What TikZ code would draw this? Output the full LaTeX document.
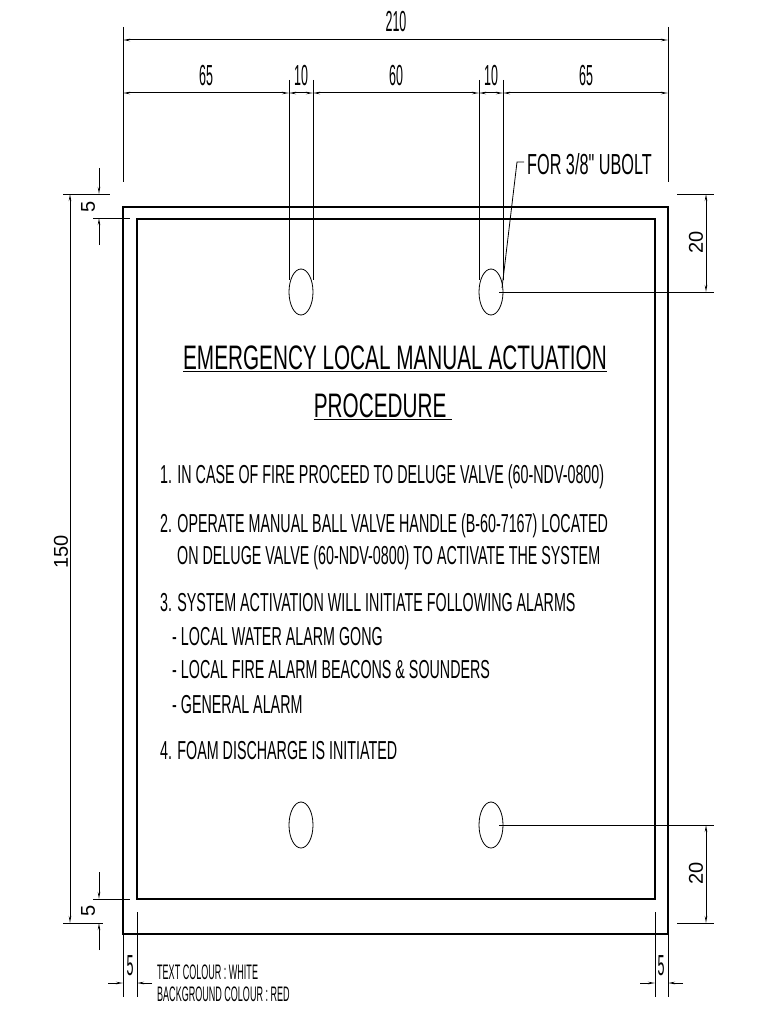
\documentclass[tikz,border=0pt]{standalone}
\usepackage{fontspec}
\setmainfont{Liberation Sans}[FakeStretch=0.55]
\newfontfamily\titlefont{Liberation Sans}[FakeStretch=0.61]
\newfontfamily\uboltfont{Liberation Sans}[FakeStretch=0.56]
\newfontfamily\dimfont{Liberation Sans}[FakeStretch=0.43]
\newfontfamily\notefont{Liberation Sans}[FakeStretch=0.43]
\newfontfamily\rotfont{Liberation Sans}
\usetikzlibrary{arrows.meta}
\begin{document}
\begin{tikzpicture}[x=1pt,y=-1pt,
  thick line/.style={line width=1.6pt},
  thin line/.style={line width=0.8pt},
  dim/.style={line width=1pt,{Stealth[length=7pt,width=2.5pt]}-{Stealth[length=7pt,width=2.5pt]}},
  arr/.style={line width=1pt,-{Stealth[length=7pt,width=2.5pt]}},
  dimtxt/.style={font=\dimfont\fontsize{29}{29}\selectfont,inner sep=0pt},
  rottxt/.style={font=\rotfont\fontsize{20}{20}\selectfont,inner sep=0pt,rotate=90},
  body/.style={font=\fontsize{26}{26}\selectfont,inner sep=0pt,anchor=base west},
  note/.style={font=\notefont\fontsize{21}{21}\selectfont,inner sep=0pt,anchor=base west},
  titletxt/.style={font=\titlefont\fontsize{34}{34}\selectfont,inner sep=0pt,anchor=base}]
\useasboundingbox (0,0) rectangle (768,1024);
\fill[white] (0,0) rectangle (768,1024);
% plate
\draw[thick line] (123,207) rectangle (668,934);
\draw[thick line] (137,219) rectangle (655,899);
% holes
\foreach \n/\x/\y in {ha/301/292,hb/491/292,hc/301/825,hd/491/825}
  \draw[thin line] (\x,\y) ellipse (12 and 23);
\coordinate (hbC) at (499,292);
\coordinate (hdC) at (499,825);
% top dims
\draw[thin line] (123,27) -- (123,182);
\draw[thin line] (668,27) -- (668,182);
\draw[dim] (123,40) -- (668,40);
\node[dimtxt] (t210) at (396,22) {210};
\foreach \x in {289,313,479,503} \draw[thin line] (\x,80) -- (\x,280);
\draw[dim] (123,93) -- (289,93);
\draw[dim] (289,93) -- (313,93);
\draw[dim] (313,93) -- (479,93);
\draw[dim] (479,93) -- (503,93);
\draw[dim] (503,93) -- (668,93);
\node[dimtxt] (t65a) at (206,76) {65};
\node[dimtxt] (t10a) at (301,76) {10};
\node[dimtxt] (t60) at (396,76) {60};
\node[dimtxt] (t10b) at (491,76) {10};
\node[dimtxt] (t65b) at (586,76) {65};
% leader
\coordinate (L1) at (517,162);
\coordinate (L2) at (524,162);
\draw[thin line] (502,288) -- (L1) -- (L2);
\node[dimtxt,font=\uboltfont\fontsize{29}{29}\selectfont,anchor=west] (ubolt) at (527,164) {FOR 3/8" UBOLT};
% left 150
\draw[thin line] (63,194) -- (110,194);
\draw[thin line] (63,923) -- (103,923);
\draw[dim] (70,194) -- (70,923);
\node[rottxt] (t150) at (61,552) {150};
% left 5 top
\draw[thin line] (93,218) -- (130,218);
\draw[arr] (99,168) -- (99,194);
\draw[arr] (99,245) -- (99,218);
\node[rottxt] (t5a) at (88,207) {5};
% left 5 bottom
\draw[thin line] (93,899) -- (130,899);
\draw[arr] (99,872) -- (99,899);
\draw[arr] (99,950) -- (99,923);
\node[rottxt] (t5b) at (88,911) {5};
% right 20 top
\draw[thin line] (677,194) -- (714,194);
\draw[thin line] (hbC) -- (714,292);
\draw[dim] (706,194) -- (706,292);
\node[rottxt] (t20a) at (696,242) {20};
% right 20 bottom
\draw[thin line] (hdC) -- (714,825);
\draw[thin line] (677,923) -- (714,923);
\draw[dim] (706,825) -- (706,923);
\node[rottxt] (t20b) at (696,873) {20};
% bottom 5 dims
\draw[thin line] (123,912) -- (123,997);
\draw[thin line] (137,912) -- (137,997);
\draw[arr] (108,983) -- (123,983);
\draw[arr] (152,983) -- (137,983);
\node[dimtxt] (t5c) at (130,966) {5};
\draw[thin line] (655,912) -- (655,997);
\draw[thin line] (668,912) -- (668,997);
\draw[arr] (640,983) -- (655,983);
\draw[arr] (683,983) -- (668,983);
\node[dimtxt] (t5d) at (661,966) {5};
\node[note] (tc) at (157,979) {TEXT COLOUR : WHITE};
\node[note] (bc) at (157,1001) {BACKGROUND COLOUR : RED};
% text
\node[titletxt] (title1) at (395,369) {\underline{EMERGENCY LOCAL MANUAL ACTUATION}};
\node[titletxt] (title2) at (383,417) {\underline{PROCEDURE\ }};
\node[body] (i1) at (160,483) {1. IN CASE OF FIRE PROCEED TO DELUGE VALVE (60-NDV-0800)};
\node[body] (i2) at (160,532) {2. OPERATE MANUAL BALL VALVE HANDLE (B-60-7167) LOCATED};
\node[body] (i2b) at (177,564) {ON DELUGE VALVE (60-NDV-0800) TO ACTIVATE THE SYSTEM};
\node[body] (i3) at (160,611) {3. SYSTEM ACTIVATION WILL INITIATE FOLLOWING ALARMS};
\node[body] (i3a) at (172,645) {- LOCAL WATER ALARM GONG};
\node[body] (i3b) at (172,678) {- LOCAL FIRE ALARM BEACONS \&\ SOUNDERS};
\node[body] (i3c) at (172,713) {- GENERAL ALARM};
\node[body] (i4) at (160,759) {4. FOAM DISCHARGE IS INITIATED};
\end{tikzpicture}
\end{document}
